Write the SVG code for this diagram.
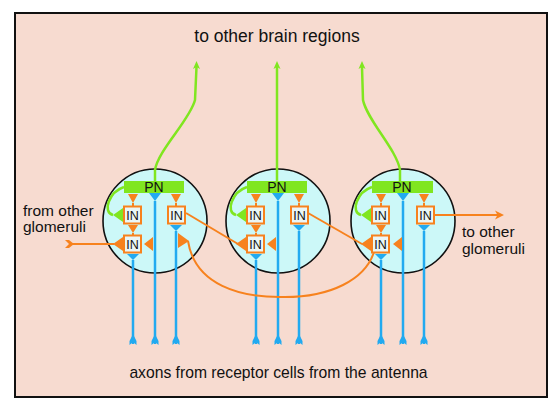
<svg xmlns="http://www.w3.org/2000/svg" width="560" height="406" viewBox="0 0 560 406">
<defs>
<style>
.bg{fill:#F7DBD0;stroke:#111;stroke-width:2}
.glom{fill:#CCF8F8;stroke:#111;stroke-width:1.6}
.pn{fill:#80E620}
.in{fill:#EAF6F6;stroke:#F7821E;stroke-width:2}
.txt{font-family:"Liberation Sans",Arial,sans-serif;fill:#111}
.lbl{font-size:15.5px}
.small{font-size:12.5px;text-anchor:middle}
.pnt{font-size:14px;text-anchor:middle}
.blue{stroke:#22AAF0;stroke-width:2.5;fill:none}
.orange{stroke:#F7821E;stroke-width:2;fill:none}
.green{stroke:#80E620;stroke-width:2.5;fill:none}
.fo{fill:#F7821E}
.fb{fill:#22AAF0}
.fg{fill:#80E620}
</style>
</defs>
<rect class="bg" x="15" y="13" width="532" height="384"/>

<g id="glomerulus-1-body"><circle class="glom" cx="155" cy="221" r="52"/></g>
<g id="glomerulus-2-body"><circle class="glom" cx="278" cy="221" r="52"/></g>
<g id="glomerulus-3-body"><circle class="glom" cx="403" cy="221" r="52"/></g>

<g id="connectors">
<path class="blue" d="M133,260V344M155,201V344M176,231V344M256,260V344M278,201V344M299,231V344M381,260V344M403,201V344M424,231V344"/>
<g class="fb">
<polygon points="133,334 136.5,341 136.5,345 133,342 129.5,345 129.5,341"/>
<polygon points="155,334 158.5,341 158.5,345 155,342 151.5,345 151.5,341"/>
<polygon points="176,334 179.5,341 179.5,345 176,342 172.5,345 172.5,341"/>
<polygon points="256,334 259.5,341 259.5,345 256,342 252.5,345 252.5,341"/>
<polygon points="278,334 281.5,341 281.5,345 278,342 274.5,345 274.5,341"/>
<polygon points="299,334 302.5,341 302.5,345 299,342 295.5,345 295.5,341"/>
<polygon points="381,334 384.5,341 384.5,345 381,342 377.5,345 377.5,341"/>
<polygon points="403,334 406.5,341 406.5,345 403,342 399.5,345 399.5,341"/>
<polygon points="424,334 427.5,341 427.5,345 424,342 420.5,345 420.5,341"/>
</g>
<path class="green" d="M155,181V170C158,150 190,120 195,100L196.5,67"/>
<path class="green" d="M277,181V67"/>
<path class="green" d="M400,181V170C397,150 367,120 363,100L362,67"/>
<g class="fg">
<polygon points="196.5,61 200,69 196.5,67 193,69"/>
<polygon points="277,61 280.5,69 277,67 273.5,69"/>
<polygon points="362,61 365.5,69 362,67 358.5,69"/>
</g>
<path class="green" d="M124,187C109,192 102,212 113,215"/>
<path class="green" d="M247,187C232,192 225,212 236,215"/>
<path class="green" d="M372,187C357,192 350,212 361,215"/>
<path class="orange" d="M70,244H114"/>
<polygon class="fo" points="65,240 69,240 74,244 69,248 65,248 69,244"/>
<path class="orange" d="M186,213L238,244"/>
<path class="orange" d="M308,213L362,244"/>
<path class="orange" d="M434,215H498"/>
<polygon class="fo" points="504,215 495,210.5 497.5,215 495,219.5"/>
<path class="orange" d="M374,252C365,280 330,297 285,297C240,298 195,285 188,241"/>
<path class="orange" d="M133,203V206M133,233V235M176,203V206M256,203V206M256,233V235M299,203V206M381,203V206M381,233V235M424,203V206"/>
</g>

<g id="glomerulus-1">
<g id="pn-1"><rect class="pn" x="124" y="181" width="60" height="12"/><text class="txt pnt" x="154" y="192">PN</text></g>
<polygon class="fo" points="128,194 138,194 133,203"/>
<polygon class="fb" points="149,193 161,193 155,201"/>
<polygon class="fo" points="171,194 181,194 176,203"/>
<polygon class="fg" points="113,215 123,208 123,222"/>
<g id="in-1a"><rect class="in" x="124" y="206.5" width="17" height="17"/><text class="txt small" x="132.5" y="219.5">IN</text></g>
<g id="in-1b"><rect class="in" x="124" y="235.5" width="17" height="17"/><text class="txt small" x="132.5" y="248.5">IN</text></g>
<g id="in-1c"><rect class="in" x="168" y="206.5" width="17" height="17"/><text class="txt small" x="176.5" y="219.5">IN</text></g>
<polygon class="fo" points="128,225 138,225 133,233"/>
<polygon class="fb" points="127,254 139,254 133,260"/>
<polygon class="fb" points="170,225 182,225 176,231"/>
<polygon class="fo" points="113,244 123,237 123,251"/>
<polygon class="fo" points="144,244 153,237 153,251"/>
<polygon class="fo" points="178,233 178,248 189,241"/>
</g>

<g id="glomerulus-2">
<g id="pn-2"><rect class="pn" x="247" y="181" width="60" height="12"/><text class="txt pnt" x="277" y="192">PN</text></g>
<polygon class="fo" points="251,194 261,194 256,203"/>
<polygon class="fb" points="272,193 284,193 278,201"/>
<polygon class="fo" points="294,194 304,194 299,203"/>
<polygon class="fg" points="236,215 246,208 246,222"/>
<g id="in-2a"><rect class="in" x="247" y="206.5" width="17" height="17"/><text class="txt small" x="255.5" y="219.5">IN</text></g>
<g id="in-2b"><rect class="in" x="247" y="235.5" width="17" height="17"/><text class="txt small" x="255.5" y="248.5">IN</text></g>
<g id="in-2c"><rect class="in" x="291" y="206.5" width="17" height="17"/><text class="txt small" x="299.5" y="219.5">IN</text></g>
<polygon class="fo" points="251,225 261,225 256,233"/>
<polygon class="fb" points="250,254 262,254 256,260"/>
<polygon class="fb" points="293,225 305,225 299,231"/>
<polygon class="fo" points="236,244 246,237 246,251"/>
<polygon class="fo" points="267,244 276,237 276,251"/>
</g>

<g id="glomerulus-3">
<g id="pn-3"><rect class="pn" x="372" y="181" width="61" height="12"/><text class="txt pnt" x="402" y="192">PN</text></g>
<polygon class="fo" points="376,194 386,194 381,203"/>
<polygon class="fb" points="397,193 409,193 403,201"/>
<polygon class="fo" points="419,194 429,194 424,203"/>
<polygon class="fg" points="361,215 371,208 371,222"/>
<g id="in-3a"><rect class="in" x="372" y="206.5" width="17" height="17"/><text class="txt small" x="380.5" y="219.5">IN</text></g>
<g id="in-3b"><rect class="in" x="372" y="235.5" width="17" height="17"/><text class="txt small" x="380.5" y="248.5">IN</text></g>
<g id="in-3c"><rect class="in" x="417" y="206.5" width="17" height="17"/><text class="txt small" x="425.5" y="219.5">IN</text></g>
<polygon class="fo" points="376,225 386,225 381,233"/>
<polygon class="fb" points="375,254 387,254 381,260"/>
<polygon class="fb" points="418,225 430,225 424,231"/>
<polygon class="fo" points="361,244 371,237 371,251"/>
<polygon class="fo" points="393,244 402,237 402,251"/>
</g>

<g id="labels">
<text class="txt" x="277" y="42" font-size="17.5" text-anchor="middle">to other brain regions</text>
<text class="txt lbl" x="23" y="216">from other</text>
<text class="txt lbl" x="23" y="232">glomeruli</text>
<text class="txt lbl" x="462" y="237">to other</text>
<text class="txt lbl" x="462" y="254">glomeruli</text>
<text class="txt" x="278.5" y="378" font-size="15.7" text-anchor="middle">axons from receptor cells from the antenna</text>
</g>
</svg>
